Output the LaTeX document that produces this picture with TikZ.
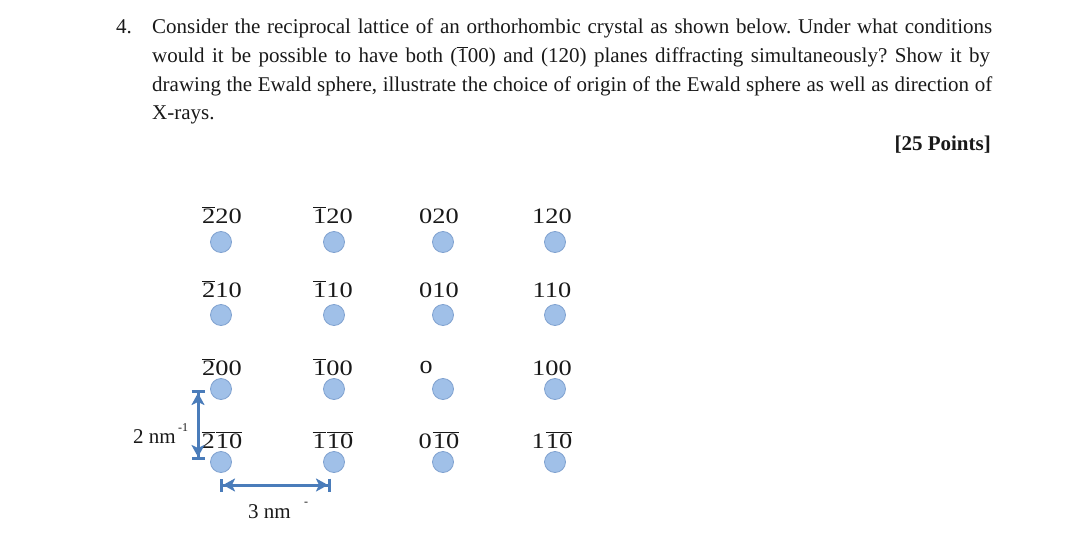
\documentclass[tikz,border=0pt]{standalone}
\usepackage{fontspec}
\setmainfont{Liberation Serif}
\newfontfamily\labfont[FakeStretch=1.2]{Liberation Serif}
\usetikzlibrary{arrows.meta}
\definecolor{dotfill}{RGB}{160,192,232}
\definecolor{dotedge}{RGB}{128,162,208}
\definecolor{dimblue}{RGB}{74,124,186}
\definecolor{ink}{RGB}{25,25,25}
\newcommand{\ob}[1]{$\overline{\mbox{#1}}$}
\frenchspacing
\begin{document}
\begin{tikzpicture}[x=1pt,y=-1pt,
  every node/.style={text=ink},
  qtext/.style={anchor=base west, inner sep=0pt, font=\fontsize{21}{25}\selectfont},
  dot/.style={circle, minimum size=21pt, inner sep=0pt, fill=dotfill, draw=dotedge, line width=0.8pt},
  lab/.style={anchor=base, inner sep=0pt, font=\labfont\fontsize{22}{24}\selectfont},
  dimlab/.style={inner sep=0pt, font=\fontsize{21}{22}\selectfont},
  dimline/.style={draw=dimblue, line width=3pt,
    {Bar[width=13pt]Stealth[length=12pt,width=13pt,inset=3pt]}-{Stealth[length=12pt,width=13pt,inset=3pt]Bar[width=13pt]}}]
\useasboundingbox (0,0) rectangle (1080,546);
% question text
\node[qtext] (num) at (116,34) {4.};
\node[qtext] (l1) at (152,34) {\makebox[840pt][s]{Consider the reciprocal lattice of an orthorhombic crystal as shown below. Under what conditions}};
\node[qtext] (l2) at (152,62.5) {\makebox[838pt][s]{would it be possible to have both (\ob{1}00) and (120) planes diffracting simultaneously? Show it by}};
\node[qtext] (l3) at (152,91) {\makebox[840pt][s]{drawing the Ewald sphere, illustrate the choice of origin of the Ewald sphere as well as direction of}};
\node[qtext] (l4) at (152,119.5) {X-rays.};
\node[anchor=base east, inner sep=0pt, font=\fontsize{21}{25}\selectfont\bfseries] (pts) at (991,150) {[25 Points]};
% lattice dots
\foreach \c/\x in {1/221,2/334,3/443,4/555}{
  \foreach \r/\y in {1/242,2/315,3/389,4/462}{
    \node[dot] (d\c\r) at (\x,\y) {};
  }
}
% labels
\node[lab] (t11) at (222,223) {\ob{2}20};
\node[lab] (t21) at (333,223) {\ob{1}20};
\node[lab] (t31) at (439,223) {020};
\node[lab] (t41) at (552,223) {120};
\node[lab] (t12) at (222,297) {\ob{2}10};
\node[lab] (t22) at (333,297) {\ob{1}10};
\node[lab] (t32) at (439,297) {010};
\node[lab] (t42) at (552,297) {110};
\node[lab] (t13) at (222,375) {\ob{2}00};
\node[lab] (t23) at (333,375) {\ob{1}00};
\node[lab, font=\fontsize{26}{28}\selectfont] (t33) at (426,373) {o};
\node[lab] (t43) at (552,375) {100};
\node[lab] (t14) at (222,448) {\ob{2}\kern1pt\ob{10}};
\node[lab] (t24) at (333,448) {\ob{1}\kern1pt\ob{10}};
\node[lab] (t34) at (439,448) {0\kern1pt\ob{10}};
\node[lab] (t44) at (552,448) {1\kern1pt\ob{10}};
% dimension arrows
\coordinate (vt) at (198,390);
\coordinate (vb) at (198,460);
\coordinate (hl) at (220,485);
\coordinate (hr) at (331,485);
\draw[dimline] (vt) -- (vb);
\draw[dimline] (hl) -- (hr);
\node[dimlab, anchor=base east] (nm2) at (176,443) {2 nm};
\node[dimlab, anchor=base west, font=\fontsize{12}{13}\selectfont] (nm2s) at (178,431) {-1};
\node[dimlab, anchor=base west] (nm3) at (248,518) {3 nm};
\node[dimlab, anchor=base west, font=\fontsize{12}{13}\selectfont] (nm3s) at (304,505) {-};
\end{tikzpicture}
\end{document}
